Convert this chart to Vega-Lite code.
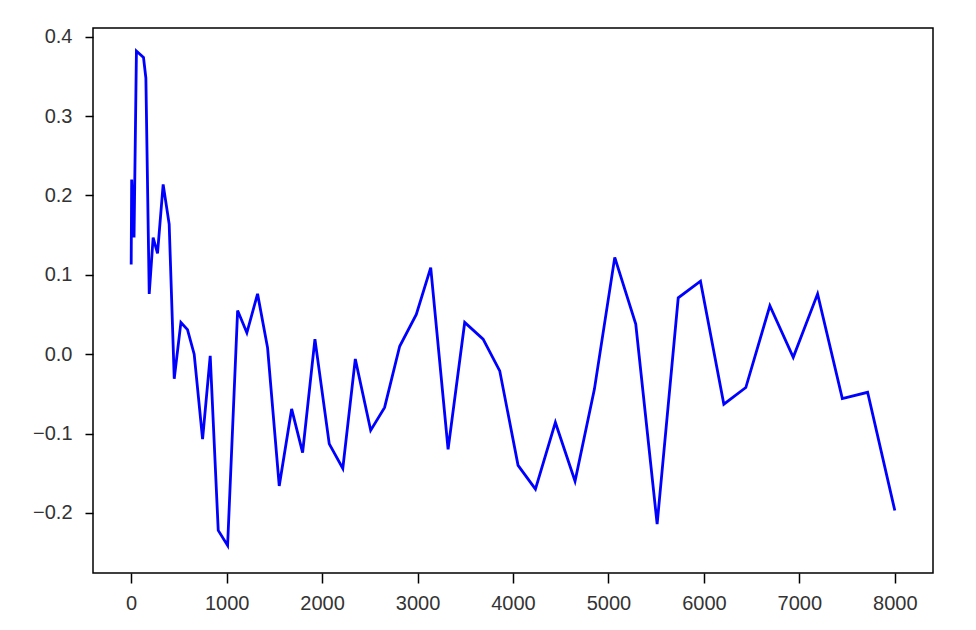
{
  "$schema": "https://vega.github.io/schema/vega-lite/v6.json",
  "autosize": "none",
  "padding": {"left": 93, "top": 28, "right": 43, "bottom": 57},
  "width": 840,
  "height": 545,
  "background": "white",
  "config": {
    "view": {"stroke": "#000000", "strokeWidth": 1.5},
    "axis": {
      "grid": false,
      "domain": false,
      "tickColor": "#000000",
      "tickWidth": 1.5,
      "labelFont": "Liberation Sans",
      "labelFontSize": 20,
      "labelColor": "#333333",
      "title": null
    },
    "axisX": {"tickSize": 10, "labelPadding": 10},
    "axisY": {"tickSize": 8, "labelPadding": 13}
  },
  "data": {
    "values": [
      {"x": 0, "y": 0.113},
      {"x": 5, "y": 0.22},
      {"x": 30, "y": 0.147},
      {"x": 55, "y": 0.382},
      {"x": 129, "y": 0.374},
      {"x": 154, "y": 0.348},
      {"x": 189, "y": 0.076},
      {"x": 230, "y": 0.147},
      {"x": 276, "y": 0.127},
      {"x": 335, "y": 0.214},
      {"x": 398, "y": 0.164},
      {"x": 451, "y": -0.031},
      {"x": 521, "y": 0.04},
      {"x": 590, "y": 0.031},
      {"x": 660, "y": 0.0},
      {"x": 748, "y": -0.107},
      {"x": 828, "y": -0.002},
      {"x": 912, "y": -0.222},
      {"x": 1010, "y": -0.241},
      {"x": 1115, "y": 0.055},
      {"x": 1212, "y": 0.027},
      {"x": 1324, "y": 0.076},
      {"x": 1429, "y": 0.008},
      {"x": 1551, "y": -0.166},
      {"x": 1681, "y": -0.069},
      {"x": 1796, "y": -0.124},
      {"x": 1925, "y": 0.019},
      {"x": 2075, "y": -0.113},
      {"x": 2217, "y": -0.144},
      {"x": 2348, "y": -0.006},
      {"x": 2509, "y": -0.096},
      {"x": 2655, "y": -0.067},
      {"x": 2813, "y": 0.01},
      {"x": 2987, "y": 0.05},
      {"x": 3138, "y": 0.109},
      {"x": 3320, "y": -0.12},
      {"x": 3494, "y": 0.04},
      {"x": 3687, "y": 0.019},
      {"x": 3861, "y": -0.021},
      {"x": 4053, "y": -0.14},
      {"x": 4235, "y": -0.17},
      {"x": 4444, "y": -0.086},
      {"x": 4650, "y": -0.16},
      {"x": 4853, "y": -0.044},
      {"x": 5066, "y": 0.122},
      {"x": 5286, "y": 0.038},
      {"x": 5510, "y": -0.214},
      {"x": 5731, "y": 0.071},
      {"x": 5964, "y": 0.092},
      {"x": 6209, "y": -0.063},
      {"x": 6439, "y": -0.042},
      {"x": 6691, "y": 0.061},
      {"x": 6936, "y": -0.004},
      {"x": 7191, "y": 0.076},
      {"x": 7450, "y": -0.056},
      {"x": 7715, "y": -0.048},
      {"x": 8000, "y": -0.197}
    ]
  },
  "mark": {"type": "line", "color": "#0000ff", "strokeWidth": 2.8, "interpolate": "linear", "clip": true},
  "encoding": {
    "x": {
      "field": "x",
      "type": "quantitative",
      "scale": {"domain": [-400, 8400], "nice": false, "zero": false},
      "axis": {"values": [0, 1000, 2000, 3000, 4000, 5000, 6000, 7000, 8000], "format": "d"}
    },
    "y": {
      "field": "y",
      "type": "quantitative",
      "scale": {"domain": [-0.2757, 0.411], "nice": false, "zero": false},
      "axis": {"values": [-0.2, -0.1, 0, 0.1, 0.2, 0.3, 0.4], "format": ".1f"}
    }
  }
}
